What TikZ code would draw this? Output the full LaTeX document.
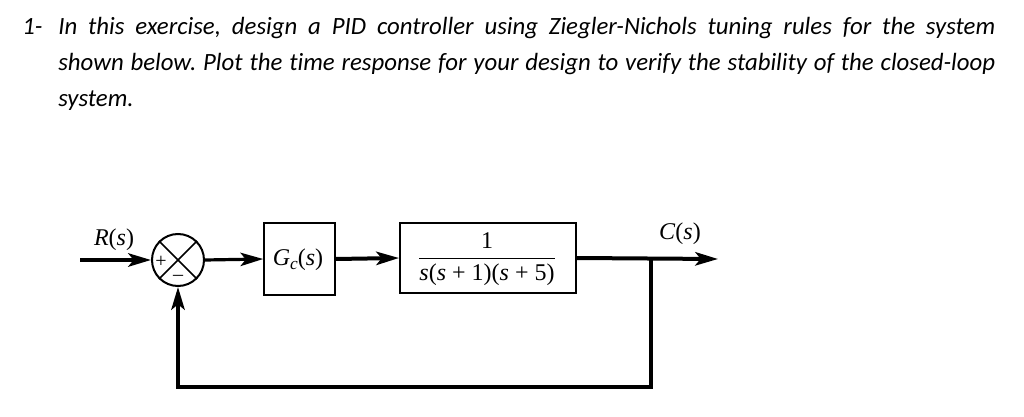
\documentclass[tikz,border=0pt]{standalone}
\usepackage{fontspec}
\usepackage{amsmath}
\setmainfont{Carlito}[Ligatures={NoCommon,TeX}]
\newfontfamily\tms{Liberation Serif}
\usetikzlibrary{arrows.meta}
\frenchspacing
\begin{document}
\frenchspacing
\begin{tikzpicture}[x=0.75pt,y=-0.75pt,
  head/.style={font=\fontsize{18.6}{22}\selectfont\itshape, inner sep=0pt, anchor=base west},
  blk/.style={draw, line width=1.5pt, inner sep=0pt},
  sig/.style={line width=3pt, -{Stealth[length=17pt,width=10pt,inset=4pt]}},
  lbl/.style={font=\tms\fontsize{18}{21}\selectfont, inner sep=0pt}]
\useasboundingbox (0,0) rectangle (1024,417);
% heading
\node[head] (num) at (22,35) {1-};
\node[head] (l1) at (58,35) {\makebox[702.75pt][s]{In this exercise, design a PID controller using Ziegler-Nichols tuning rules for the system}};
\node[head] (l2) at (58,71) {\makebox[702.75pt][s]{shown below. Plot the time response for your design to verify the stability of the closed-loop}};
\node[head] (l3) at (58,107) {system.};
% diagram
\node[draw, circle, line width=1.5pt, minimum size=39pt, inner sep=0pt] (sum) at (178,260) {};
\draw[line width=1.2pt] (sum.45) -- (sum.225) (sum.135) -- (sum.315);
\node[font=\tms\fontsize{15}{15}\selectfont, inner sep=0pt] (plus) at (161,262) {+};
\node[font=\tms\fontsize{15}{15}\selectfont, inner sep=0pt] (minus) at (178,278) {–};
\node[blk, minimum width=53pt, minimum height=54pt] (gc) at (299.5,259) {};
\node[lbl] (gct) at (298,260) {\textit{G}\raisebox{-0.3ex}{\fontsize{13}{13}\selectfont\textit{c}}(\textit{s})};
\node[blk, minimum width=132pt, minimum height=52.5pt] (plant) at (488,258) {};
\node[lbl] (pt) at (487,259) {$\dfrac{\text{1}}{\textit{s}\text{(}\textit{s}\text{ + 1)(}\textit{s}\text{ + 5)}}$};
\coordinate (in) at (80,260);
\coordinate (br) at (651,259);
\coordinate (out) at (718,259);
\coordinate (fb) at (651,387);
\node[lbl] (rs) at (114,240) {\textit{R}(\textit{s})};
\node[lbl] (cs) at (680,234) {\textit{C}(\textit{s})};
\draw[sig] (in) -- (sum.west);
\draw[sig, line width=2.4pt] (sum.east) -- (gc.west);
\draw[sig] (gc.east) -- (plant.west);
\draw[sig] (plant.east) -- (out);
\draw[sig, line cap=rect] (br) -- (fb) -| (sum.south);
\end{tikzpicture}
\end{document}
